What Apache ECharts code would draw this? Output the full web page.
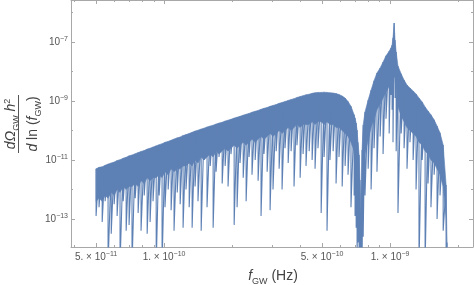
<!DOCTYPE html>
<html><head><meta charset="utf-8">
<script src="https://cdn.jsdelivr.net/npm/echarts@6/dist/echarts.min.js"></script>
<style>html,body{margin:0;padding:0;background:#fff}#c{width:474px;height:285px}</style>
</head><body><div id="c"></div>
<script>
// log10 of frequency (Hz) for each sampled oscillation
const logFreq = [
-10.301,-10.288,-10.274,-10.261,-10.248,-10.234,-10.221,-10.208,-10.195,-10.181,-10.168,-10.155,-10.142,-10.128,-10.115,-10.102,-10.088,-10.075,-10.062,-10.049,-10.035,-10.022,-10.009,-9.996,-9.982,-9.969,-9.956,-9.942,-9.929,-9.916,-9.903,-9.889,-9.876,-9.863,-9.850,
-9.836,-9.823,-9.810,-9.796,-9.783,-9.770,-9.757,-9.743,-9.730,-9.717,-9.704,-9.690,-9.677,-9.664,-9.650,-9.637,-9.624,-9.611,-9.597,-9.584,-9.571,-9.558,-9.544,-9.531,-9.518,-9.504,-9.491,-9.478,-9.465,-9.451,-9.438,-9.425,-9.412,-9.398,-9.385,
-9.372,-9.358,-9.345,-9.332,-9.319,-9.305,-9.292,-9.279,-9.266,-9.252,-9.239,-9.226,-9.212,-9.199,-9.186,-9.173,-9.159,
-9.155,-9.150,-9.146,-9.142,-9.137,-9.133,-9.128,-9.124,-9.119,
-9.111,-9.097,-9.084,-9.071,-9.058,-9.044,-9.031,-9.018,-9.004,
-8.996,-8.991,-8.987,-8.982,-8.978,-8.973,
-8.965,-8.951,-8.938,-8.925,-8.912,-8.898,-8.885,-8.872,-8.858,-8.845,-8.832,-8.819,-8.805,-8.792,-8.779,-8.765,-8.752,-8.748
];
// log10 of the crest value of dOmega h^2 / dln f
const logUpper = [
-11.30,-11.25,-11.23,-11.18,-11.14,-11.10,-11.07,-11.02,-10.99,-10.94,-10.91,-10.86,-10.83,-10.79,-10.75,-10.71,-10.68,-10.63,-10.60,-10.56,-10.52,-10.48,-10.45,-10.40,-10.37,-10.33,-10.29,-10.25,-10.22,-10.17,-10.14,-10.10,-10.06,-10.02,-9.99,
-9.95,-9.92,-9.88,-9.85,-9.82,-9.78,-9.75,-9.72,-9.68,-9.65,-9.62,-9.58,-9.55,-9.52,-9.48,-9.45,-9.42,-9.38,-9.35,-9.32,-9.28,-9.25,-9.22,-9.18,-9.15,-9.12,-9.08,-9.05,-9.02,-8.98,-8.95,-8.92,-8.88,-8.85,-8.82,
-8.79,-8.77,-8.74,-8.72,-8.71,-8.71,-8.70,-8.71,-8.72,-8.73,-8.75,-8.78,-8.83,-8.90,-9.02,-9.18,-9.47,
-9.58,-9.75,-9.98,-10.40,-10.83,-11.68,-13.0,-10.66,-9.81,
-9.37,-8.97,-8.63,-8.31,-8.05,-7.88,-7.68,-7.47,-7.31,
-7.20,-7.10,-6.86,-6.36,-6.93,-7.34,
-7.81,-8.08,-8.29,-8.46,-8.56,-8.66,-8.76,-8.90,-9.03,-9.20,-9.34,-9.47,-9.64,-9.85,-10.08,-10.49,-11.85,-13.8
];
// log10 of the lower edge of the dense (solid) band
const logBand = [
-12.4,-12.3,-12.4,-12.2,-12.3,-12.1,-12.2,-12.0,-12.1,-11.9,-12.0,-11.9,-11.9,-11.8,-11.9,-11.7,-11.8,-11.6,-11.7,-11.6,-11.6,-11.5,-11.6,-11.4,-11.5,-11.3,-11.4,-11.3,-11.3,-11.2,-11.2,-11.1,-11.2,-11.0,-11.1,
-10.9,-11.0,-10.9,-10.8,-10.9,-10.7,-10.8,-10.7,-10.6,-10.7,-10.6,-10.5,-10.6,-10.5,-10.4,-10.5,-10.4,-10.3,-10.4,-10.3,-10.2,-10.3,-10.2,-10.1,-10.2,-10.1,-10.0,-10.1,-10.0,-9.9,-10.0,-9.9,-9.8,-9.9,-9.8,
-9.8,-9.8,-9.7,-9.8,-9.7,-9.7,-9.8,-9.7,-9.8,-9.8,-9.9,-9.9,-10.0,-10.1,-10.2,-10.4,-10.7,
-11.0,-11.2,-11.5,-12.0,-12.5,-13.0,-14.0,-12.2,-11.2,
-10.8,-10.3,-9.9,-9.6,-9.3,-9.1,-8.9,-8.7,-8.5,
-8.4,-8.3,-8.2,-7.6,-8.3,-8.6,
-9.2,-9.5,-9.7,-9.9,-10.0,-10.1,-10.2,-10.4,-10.5,-10.7,-10.8,-11.0,-11.1,-11.3,-11.5,-11.9,-13.0,-14.2
];
// log10 of the trough value (spike tips)
const logLower = [
-12.9,-12.6,-13.1,-12.4,-14.6,-13.5,-12.5,-12.9,-14.6,-12.4,-13.4,-13.2,-14.6,-12.3,-12.8,-13.4,-12.2,-13.5,-13.1,-12.4,-14.6,-12.2,-14.6,-12.6,-12.0,-12.7,-13.4,-12.1,-12.5,-13.3,-12.0,-12.6,-13.3,-11.9,-12.4,
-13.4,-11.0,-12.6,-11.2,-13.3,-11.4,-10.9,-11.8,-11.2,-11.9,-10.8,-13.2,-12.6,-11.1,-11.6,-12.4,-10.9,-11.5,-11.0,-11.7,-12.9,-10.8,-11.4,-12.7,-12.0,-10.7,-11.3,-12.0,-10.6,-11.1,-10.7,-11.9,-10.5,-11.6,-10.8,
-11.2,-10.7,-11.0,-11.3,-10.6,-12.8,-10.9,-13.4,-11.0,-10.7,-11.8,-10.9,-11.9,-11.2,-11.5,-12.6,-12.2,
-12.9,-13.3,-14.6,-13.8,-14.6,-14.6,-14.6,-14.6,-13.6,
-12.2,-11.3,-12.0,-10.6,-11.4,-10.2,-10.8,-9.6,-10.1,
-8.8,-9.3,-10.4,-8.2,-8.9,-10.7,
-12.8,-10.1,-10.6,-11.3,-10.4,-11.0,-12.0,-14.6,-11.0,-14.6,-11.8,-12.6,-11.5,-13.0,-12.2,-13.4,-14.6,-14.6
];
// axis ticks
const xTickVals = [5e-11, 1e-10, 5e-10, 1e-9];
const xTickMant = ['5.', '1.', '5.', '1.'];
const xTickExp  = ['\u221211', '\u221210', '\u221210', '\u22129'];
const xMinorVals = [4e-11, 6e-11, 7e-11, 8e-11, 9e-11, 2e-10, 3e-10, 4e-10, 6e-10, 7e-10, 8e-10, 9e-10, 2e-9];
const yTickVals = [1e-7, 1e-9, 1e-11, 1e-13];
const yTickExp  = ['\u22127', '\u22129', '\u221211', '\u221213'];
const yMinorVals = [1e-6, 1e-8, 1e-10, 1e-12];

const X_MIN = Math.pow(10, -10.412), X_MAX = Math.pow(10, -8.633);
const Y_MIN = Math.pow(10, -13.95),  Y_MAX = Math.pow(10, -5.576);
const P = v => Math.pow(10, v);

const spikeData = [], bandData = [];
for (let i = 0; i < logFreq.length; i++) {
  const f = P(logFreq[i]);
  spikeData.push([f, P(logUpper[i])]);
  spikeData.push([f, P(logLower[i])]);
  bandData.push([f, P(logUpper[i]), P(logBand[i])]);
}

const BLUE = '#5e81b5';
const AX = '#a8a8a8', LBL = '#555', FONT = 'Liberation Sans, Arial, sans-serif';
function idx(arr, v) { let b = 0; for (let i = 0; i < arr.length; i++) if (Math.abs(Math.log10(arr[i]) - Math.log10(v)) < Math.abs(Math.log10(arr[b]) - Math.log10(v))) b = i; return b; }
const supRich = {
  m: { fontSize: 10, fontFamily: FONT, color: LBL, lineHeight: 12 },
  e: { fontSize: 7, fontFamily: FONT, color: LBL, lineHeight: 7, verticalAlign: 'top', padding: [0, 0, 5, 0] }
};
function xAx(pos, show, vals, len, line) {
  return { type: 'log', min: X_MIN, max: X_MAX, position: pos, gridIndex: 0,
    axisLine: { show: line, lineStyle: { color: AX, width: 1 } },
    axisTick: { show: true, inside: true, length: len, lineStyle: { color: AX }, customValues: vals },
    axisLabel: show ? { show: true, customValues: vals, margin: 4, rich: supRich,
      formatter: v => { const k = idx(xTickVals, v); return '{m|' + xTickMant[k] + ' \u00d7 10}{e|' + xTickExp[k] + '}'; } } : { show: false },
    splitLine: { show: false }, minorTick: { show: false } };
}
function yAx(pos, show, vals, len, line) {
  return { type: 'log', min: Y_MIN, max: Y_MAX, position: pos, gridIndex: 0,
    axisLine: { show: line, lineStyle: { color: AX, width: 1 } },
    axisTick: { show: true, inside: true, length: len, lineStyle: { color: AX }, customValues: vals },
    axisLabel: show ? { show: true, customValues: vals, margin: 3, rich: supRich,
      formatter: v => { const k = idx(yTickVals, v); return '{m|10}{e|' + yTickExp[k] + '}'; } } : { show: false },
    splitLine: { show: false }, minorTick: { show: false } };
}
const TXT = '#444';
const titleRich = {
  i: { fontSize: 14, fontStyle: 'italic', fontFamily: FONT, fill: TXT, lineHeight: 16 },
  m: { fontSize: 14, fontFamily: FONT, fill: TXT, lineHeight: 16 },
  s: { fontSize: 9, fontFamily: FONT, fill: TXT, lineHeight: 9, verticalAlign: 'bottom', padding: [0, 0, -2, 0] },
  p: { fontSize: 9, fontFamily: FONT, fill: TXT, lineHeight: 9, verticalAlign: 'top', padding: [0, 0, 5, 0] }
};

const chart = echarts.init(document.getElementById('c'), null, { renderer: 'canvas' });
chart.setOption({
  animation: false,
  backgroundColor: '#fff',
  grid: { left: 71, right: 1, top: 0, bottom: 38, containLabel: false },
  xAxis: [
    xAx('bottom', true, xTickVals, 4, true),
    xAx('bottom', false, xMinorVals, 2, false),
    xAx('top', false, xTickVals, 4, true),
    xAx('top', false, xMinorVals, 2, false)
  ],
  yAxis: [
    yAx('left', true, yTickVals, 4, true),
    yAx('left', false, yMinorVals, 2, false),
    yAx('right', false, yTickVals, 4, true),
    yAx('right', false, yMinorVals, 2, false)
  ],
  series: [{
    type: 'custom', coordinateSystem: 'cartesian2d', xAxisIndex: 0, yAxisIndex: 0,
    data: bandData, encode: { x: 0, y: 1 }, clip: true, silent: true,
    renderItem: function (params, api) {
      if (params.dataIndex !== 0) return;
      const pts = [];
      for (let i = 0; i < bandData.length; i++) pts.push(api.coord([bandData[i][0], bandData[i][1]]));
      for (let i = bandData.length - 1; i >= 0; i--) pts.push(api.coord([bandData[i][0], bandData[i][2]]));
      return { type: 'polygon', shape: { points: pts }, style: { fill: BLUE, stroke: BLUE, lineWidth: 0.6 } };
    }
  }, {
    type: 'line', xAxisIndex: 0, yAxisIndex: 0, data: spikeData,
    showSymbol: false, symbol: 'none', sampling: null, clip: true,
    lineStyle: { color: BLUE, width: 1.1 }, silent: true
  }],
  graphic: [
    { type: 'text', x: 11, y: 124, rotation: Math.PI / 2,
      style: { text: '{i|d\u03a9}{s|GW}{m| }{i|h}{p|2}', align: 'center', verticalAlign: 'middle', rich: titleRich } },
    { type: 'line', shape: { x1: 18.5, y1: 95, x2: 18.5, y2: 153 }, style: { stroke: '#555', lineWidth: 1 } },
    { type: 'text', x: 33, y: 124, rotation: Math.PI / 2,
      style: { text: '{i|d}{m| ln (}{i|f}{s|GW}{m|)}', align: 'center', verticalAlign: 'middle', rich: titleRich } },
    { type: 'text', x: 273, y: 276,
      style: { text: '{i|f}{s|GW}{m| (Hz)}', align: 'center', verticalAlign: 'middle', rich: titleRich } }
  ]
});
</script></body></html>
